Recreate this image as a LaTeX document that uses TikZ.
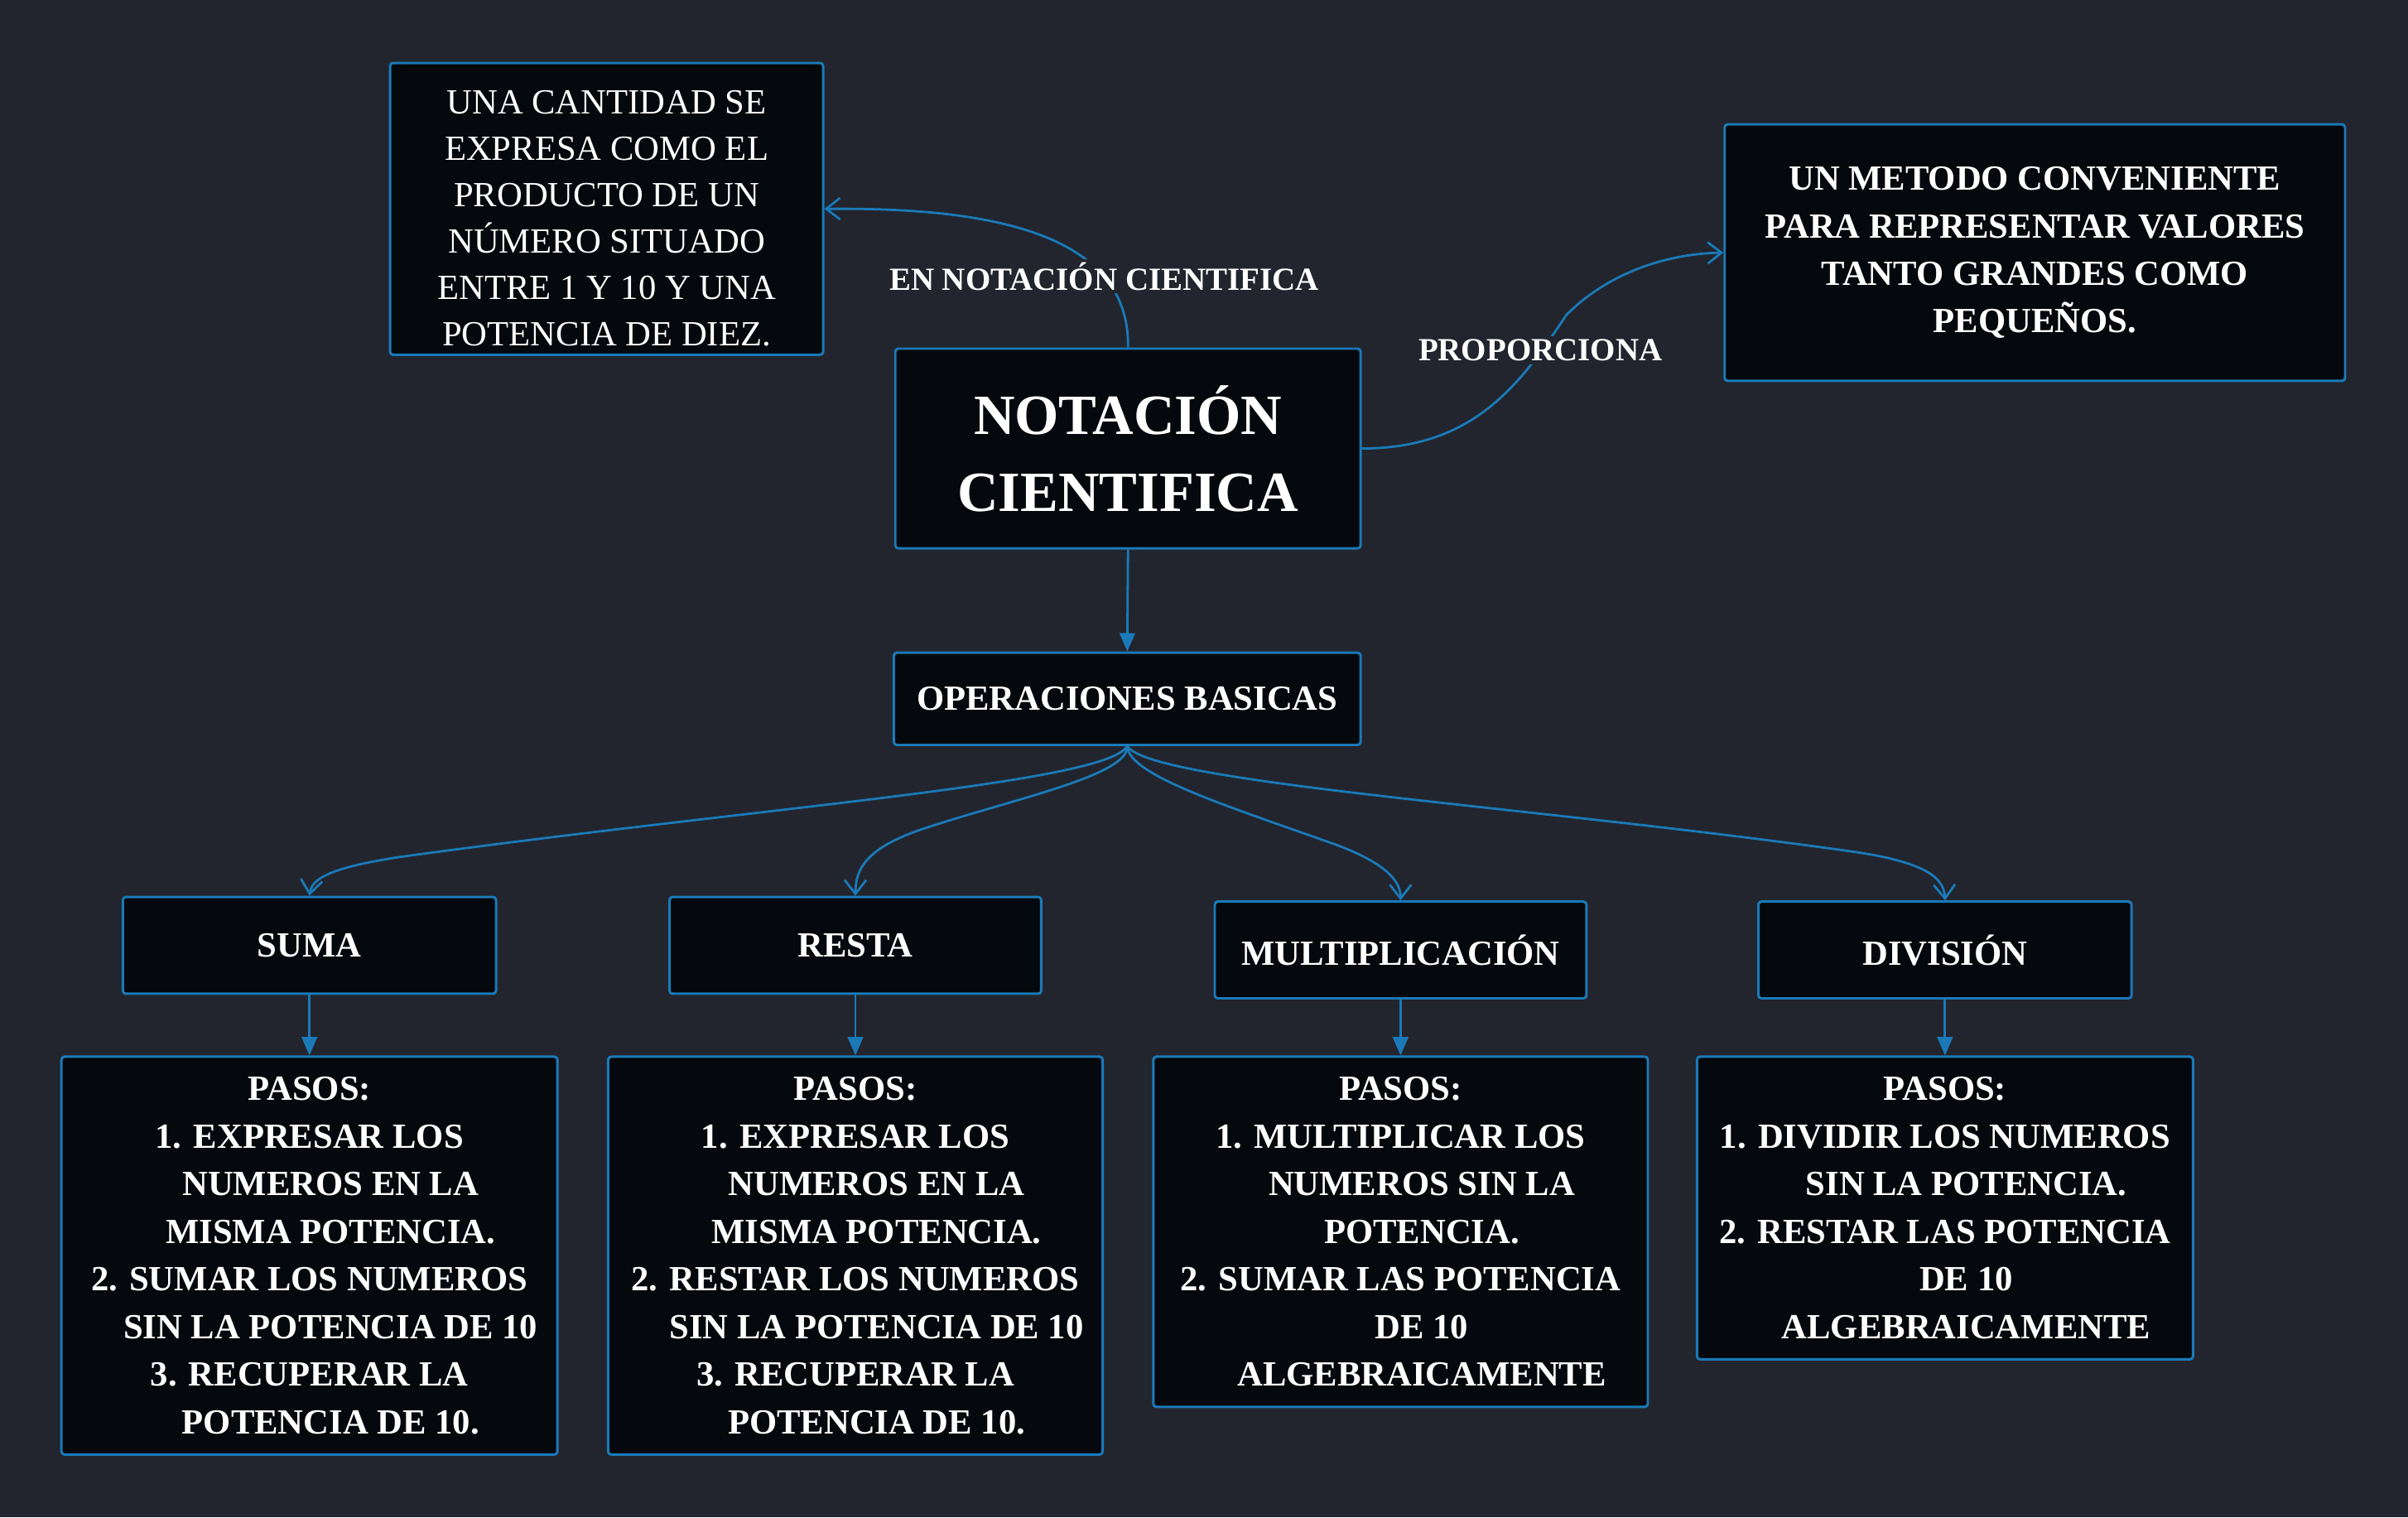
\documentclass[tikz,border=0pt]{standalone}
\usepackage{fontspec}
\setmainfont{Liberation Serif}
\usetikzlibrary{arrows.meta}
\definecolor{bg}{HTML}{22252E}
\definecolor{boxfill}{HTML}{05080C}
\definecolor{edge}{HTML}{1A7AB8}
\begin{document}
\begin{tikzpicture}[x=1pt,y=-1pt,
 box/.style={draw=edge,fill=boxfill,line width=1.6pt,rounded corners=2pt,text=white,align=center,font=\fontsize{23}{31}\selectfont\bfseries,inner sep=0pt},
 lab/.style={text=white,font=\fontsize{21}{24}\selectfont\bfseries,fill=bg,inner sep=2pt},
 con/.style={draw=edge,line width=1.5pt},
 openar/.style={con,-{Straight Barb[length=9pt,width=14pt]}},
 fillar/.style={con,-{Triangle[length=12pt,width=10pt]}}]
\fill[bg] (0,0) rectangle (1568,988);
\useasboundingbox (0,0) rectangle (1568,988);
\node[box,minimum width=282pt,minimum height=190pt] (def) at (395,136) {};
\node[text=white,align=center,font=\fontsize{23}{30.2}\selectfont,inner sep=0pt] (deftext) at (395,142) {UNA CANTIDAD SE\\EXPRESA COMO EL\\PRODUCTO DE UN\\NÚMERO SITUADO\\ENTRE 1 Y 10 Y UNA\\POTENCIA DE DIEZ.};
\node[box,minimum width=303pt,minimum height=130pt,font=\fontsize{37}{50}\selectfont\bfseries] (main) at (734.5,292) {NOTACIÓN\\CIENTIFICA};
\node[box,minimum width=404pt,minimum height=167pt] (met) at (1325,164.5) {UN METODO CONVENIENTE\\PARA REPRESENTAR VALORES\\TANTO GRANDES COMO\\PEQUEÑOS.};
\node[box,minimum width=304pt,minimum height=60pt] (ops) at (734,455) {OPERACIONES BASICAS};
\node[box,minimum width=243pt,minimum height=63pt] (suma) at (201.5,615.5) {SUMA};
\node[box,minimum width=242pt,minimum height=63pt] (resta) at (557,615.5) {RESTA};
\node[box,minimum width=242pt,minimum height=63pt] (mult) at (912,618.5) {MULTIPLICACIÓN};
\node[box,minimum width=243pt,minimum height=63pt] (div) at (1266.5,618.5) {DIVISIÓN};
\node[box,minimum width=323pt,minimum height=259pt] (p1) at (201.5,817.5) {PASOS:\\1. EXPRESAR LOS\\\hspace*{1.2em}NUMEROS EN LA\\\hspace*{1.2em}MISMA POTENCIA.\\2. SUMAR LOS NUMEROS\\\hspace*{1.2em}SIN LA POTENCIA DE 10\\3. RECUPERAR LA\\\hspace*{1.2em}POTENCIA DE 10.};
\node[box,minimum width=322pt,minimum height=259pt] (p2) at (557,817.5) {PASOS:\\1. EXPRESAR LOS\\\hspace*{1.2em}NUMEROS EN LA\\\hspace*{1.2em}MISMA POTENCIA.\\2. RESTAR LOS NUMEROS\\\hspace*{1.2em}SIN LA POTENCIA DE 10\\3. RECUPERAR LA\\\hspace*{1.2em}POTENCIA DE 10.};
\node[box,minimum width=322pt,minimum height=228pt] (p3) at (912,802) {PASOS:\\1. MULTIPLICAR LOS\\\hspace*{1.2em}NUMEROS SIN LA\\\hspace*{1.2em}POTENCIA.\\2. SUMAR LAS POTENCIA\\\hspace*{1.2em}DE 10\\\hspace*{1.2em}ALGEBRAICAMENTE};
\node[box,minimum width=323pt,minimum height=197pt] (p4) at (1266.5,786.5) {PASOS:\\1. DIVIDIR LOS NUMEROS\\\hspace*{1.2em}SIN LA POTENCIA.\\2. RESTAR LAS POTENCIA\\\hspace*{1.2em}DE 10\\\hspace*{1.2em}ALGEBRAICAMENTE};
% connectors
\draw[openar] (main.north) .. controls (736,150) and (640,135) .. (def.east);
\node[lab] (l1) at (719,180) {EN NOTACIÓN CIENTIFICA};
\draw[openar] (main.east) .. controls (960,292) and (990,250) .. (1020,205) .. controls (1050,175) and (1090,165) .. (met.west);
\node[lab] (l2) at (1003,228) {PROPORCIONA};
\draw[fillar] (main.south) -- (ops.north);
\draw[openar] (ops.south) .. controls (720,510) and (500,525) .. (260,558) .. controls (215,565) and (203,572) .. (suma.north);
\draw[openar] (ops.south) .. controls (735,505) and (660,520) .. (600,540) .. controls (565,552) and (557,565) .. (resta.north);
\draw[openar] (ops.south) .. controls (735,505) and (800,525) .. (870,550) .. controls (905,563) and (912,575) .. (mult.north);
\draw[openar] (ops.south) .. controls (750,510) and (1000,525) .. (1210,555) .. controls (1255,562) and (1266,572) .. (div.north);
\draw[fillar] (suma.south) -- (p1.north);
\draw[fillar] (resta.south) -- (p2.north);
\draw[fillar] (mult.south) -- (p3.north);
\draw[fillar] (div.south) -- (p4.north);
\end{tikzpicture}
\end{document}
